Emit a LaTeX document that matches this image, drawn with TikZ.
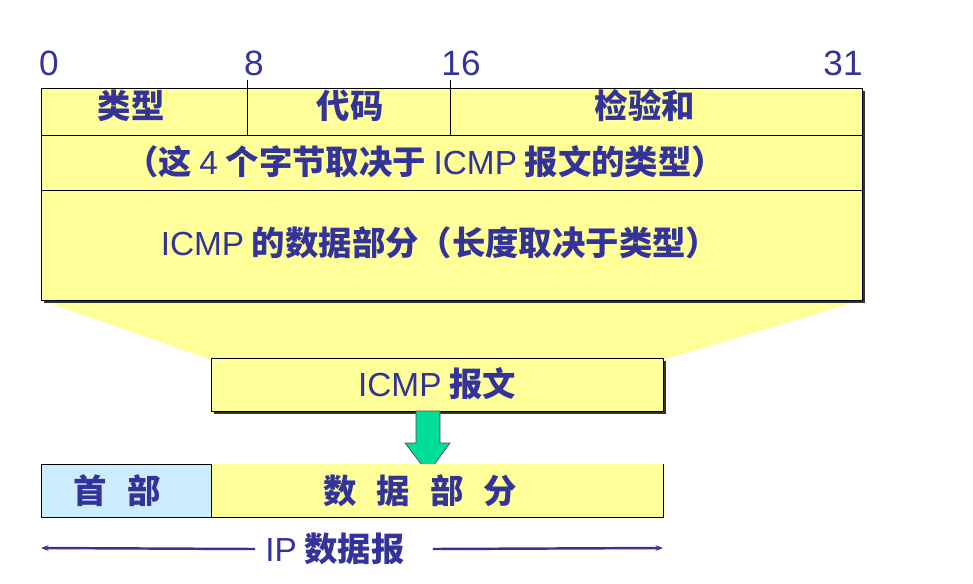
\documentclass[tikz,border=0pt]{standalone}
\usepackage{fontspec}
\setmainfont{Liberation Sans}
\newfontfamily\cjk{Noto Sans CJK SC}
\usetikzlibrary{arrows.meta}
\definecolor{boxyellow}{RGB}{255,255,153}
\definecolor{headblue}{RGB}{204,236,255}
\definecolor{textblue}{RGB}{51,51,153}
\definecolor{arrowgreen}{RGB}{0,221,153}
\newcommand{\lat}[1]{{\rmfamily\mdseries #1}}
\begin{document}
\begin{tikzpicture}[x=0.02cm,y=-0.02cm,
    lbl/.style={text=textblue,font=\cjk\bfseries\fontsize{19}{22}\selectfont},
    num/.style={text=textblue,font=\fontsize{20}{22}\selectfont},
    shadow/.style={fill=black!80,draw=none}]
    \useasboundingbox (0,0) rectangle (973,583);
    % Funnel
    \fill[boxyellow] (41,300) -- (862,300) -- (663,360) -- (211,360) -- cycle;
    % ICMP message layout
    \fill[shadow] (44,91) rectangle (865,303);
    \draw[fill=boxyellow] (41,88) rectangle (862,300);
    \draw (41,135) -- (862,135);
    \draw (41,190) -- (862,190);
    \draw (247,80) -- (247,135);
    \draw (450,80) -- (450,135);
    \node[num] (b0) at (49,63) {0};
    \node[num] (b8) at (254,63) {8};
    \node[num] (b16) at (461,63) {16};
    \node[num] (b31) at (843,63) {31};
    \node[lbl] (type) at (131,106) {类型};
    \node[lbl] (code) at (350,106) {代码};
    \node[lbl] (csum) at (645,106) {检验和};
    \node[lbl] (rest) at (425,162) {（这 \lat{4} 个字节取决于 \lat{ICMP} 报文的类型）};
    \node[lbl] (data) at (440,243) {\lat{ICMP} 的数据部分（长度取决于类型）};
    % ICMP message box
    \fill[shadow] (214,361) rectangle (666,414);
    \draw[fill=boxyellow] (211,358) rectangle (663,411);
    \node[lbl] (msg) at (437,384) {\lat{ICMP} 报文};
    % Green arrow
    \draw[fill=arrowgreen,draw=black!70] (416,411) -- (440,411) -- (440,443) -- (450,443)
        -- (428,473) -- (405,443) -- (416,443) -- cycle;
    % IP datagram
    \fill[boxyellow] (211,464) rectangle (663,517);
    \draw (211,517) -- (663,517) -- (663,464);
    \draw[fill=headblue] (41,464) rectangle (211,517);
    \node[lbl] (hdr) at (117,491) {首\hspace{0.6em}部};
    \node[lbl] (payload) at (420,491) {数\hspace{0.6em}据\hspace{0.6em}部\hspace{0.6em}分};
    \node[lbl] (ipd) at (335,549) {\lat{IP} 数据报};
    \coordinate (ipl) at (41,548);
    \coordinate (ipr) at (663,548);
    \draw[textblue,line width=1.4pt,-{Stealth[length=1.5mm]}] (ipd.west) ++(-4,0) -- (ipl);
    \draw[textblue,line width=1.4pt,-{Stealth[length=1.5mm]}] (ipd.east) ++(22,0) -- (ipr);
\end{tikzpicture}
\end{document}
